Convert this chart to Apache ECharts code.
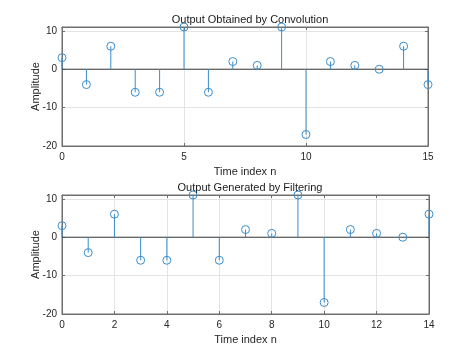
<!DOCTYPE html>
<html>
<head>
<meta charset="utf-8">
<script src="https://cdn.jsdelivr.net/npm/echarts@6/dist/echarts.min.js"></script>
<style>html,body{margin:0;padding:0;background:#fff}#c{width:474px;height:355px}</style>
</head>
<body>
<div id="c"></div>
<script>
// Data
const convIndex = [0,1,2,3,4,5,6,7,8,9,10,11,12,13,14,15];
const convValues = [3,-4,6,-6,-6,11,-6,2,1,11,-17,2,1,0,6,-4];
const filtIndex = [0,1,2,3,4,5,6,7,8,9,10,11,12,13,14];
const filtValues = [3,-4,6,-6,-6,11,-6,2,1,11,-17,2,1,0,6];
const convXTicks = [0,5,10,15];
const filtXTicks = [0,2,4,6,8,10,12,14];
const yTicks = [-20,-10,0,10];
const titles = ['Output Obtained by Convolution', 'Output Generated by Filtering'];
const xLabel = 'Time index n';
const yLabel = 'Amplitude';

const FONT = 'Liberation Sans, Arial, sans-serif';
const STEM = '#3a8dcc';
const BOX = '#6e6e6e';

const chart = echarts.init(document.getElementById('c'), null, {renderer: 'canvas'});

const grids = [
  {left: 62, right: 46, top: 27, height: 119, show: true, borderColor: BOX, borderWidth: 1, backgroundColor: '#fff'},
  {left: 62, right: 45, top: 195, height: 119, show: true, borderColor: BOX, borderWidth: 1, backgroundColor: '#fff'}
];

function xAxis(gi, max, ticks) {
  return {
    type: 'value', gridIndex: gi, min: 0, max: max,
    name: xLabel, nameLocation: 'middle', nameGap: 20,
    nameTextStyle: {fontFamily: FONT, fontSize: 11, color: '#262626'},
    axisLine: {show: true, onZero: false, lineStyle: {color: BOX}},
    axisTick: {show: true, inside: true, length: 3, lineStyle: {color: BOX}, customValues: ticks},
    axisLabel: {fontFamily: FONT, fontSize: 10, color: '#262626', margin: 6, customValues: ticks},
    splitLine: {show: true, lineStyle: {color: '#e4e4e4', width: 1}}
  };
}
function xAxisTop(gi, max, ticks) {
  return {
    type: 'value', gridIndex: gi, min: 0, max: max, position: 'top',
    axisLine: {show: true, onZero: false, lineStyle: {color: BOX}},
    axisTick: {show: true, inside: true, length: 3, lineStyle: {color: BOX}, customValues: ticks},
    axisLabel: {show: false},
    splitLine: {show: false}
  };
}
function yAxis(gi) {
  return {
    type: 'value', gridIndex: gi, min: -20, max: 11,
    name: yLabel, nameLocation: 'middle', nameGap: 21, nameMoveOverlap: false,
    nameTextStyle: {fontFamily: FONT, fontSize: 11, color: '#262626'},
    axisLine: {show: true, onZero: false, lineStyle: {color: BOX}},
    axisTick: {show: true, inside: true, length: 3, lineStyle: {color: BOX}, customValues: yTicks},
    axisLabel: {fontFamily: FONT, fontSize: 10, color: '#262626', margin: 5, customValues: yTicks},
    splitLine: {show: true, lineStyle: {color: '#e4e4e4', width: 1}}
  };
}
function yAxisRight(gi) {
  return {
    type: 'value', gridIndex: gi, min: -20, max: 11, position: 'right',
    axisLine: {show: true, onZero: false, lineStyle: {color: BOX}},
    axisTick: {show: true, inside: true, length: 3, lineStyle: {color: BOX}, customValues: yTicks},
    axisLabel: {show: false},
    splitLine: {show: false}
  };
}

function stemSeries(gi, xs, ys) {
  return {
    type: 'custom', xAxisIndex: gi * 2, yAxisIndex: gi * 2,
    clip: false,
    data: xs.map((x, i) => [x, ys[i]]),
    renderItem: function (params, api) {
      const x = api.value(0), y = api.value(1);
      const p0 = api.coord([x, 0]);
      const p1 = api.coord([x, y]);
      return {
        type: 'group',
        children: [
          {type: 'line', shape: {x1: p0[0], y1: p0[1], x2: p1[0], y2: p1[1]},
           style: {stroke: STEM, lineWidth: 1}},
          {type: 'circle', shape: {cx: p1[0], cy: p1[1], r: 4},
           style: {stroke: STEM, fill: 'rgba(0,0,0,0)', lineWidth: 1}}
        ]
      };
    },
    z: 3
  };
}

function baseline(gi, xmax) {
  return {
    type: 'line', xAxisIndex: gi * 2, yAxisIndex: gi * 2,
    data: [[0, 0], [xmax, 0]],
    symbol: 'none', silent: true,
    lineStyle: {color: '#3a3a3a', width: 1},
    z: 2
  };
}

chart.setOption({
  animation: false,
  title: [
    {text: titles[0], left: 245, top: 9, textAlign: 'center',
     textStyle: {fontFamily: FONT, fontSize: 11, fontWeight: 'normal', color: '#1a1a1a'}},
    {text: titles[1], left: 245, top: 177, textAlign: 'center',
     textStyle: {fontFamily: FONT, fontSize: 11, fontWeight: 'normal', color: '#1a1a1a'}}
  ],
  grid: grids,
  xAxis: [xAxis(0, 15, convXTicks), xAxisTop(0, 15, convXTicks), xAxis(1, 14, filtXTicks), xAxisTop(1, 14, filtXTicks)],
  yAxis: [yAxis(0), yAxisRight(0), yAxis(1), yAxisRight(1)],
  series: [
    baseline(0, 15), stemSeries(0, convIndex, convValues),
    baseline(1, 14), stemSeries(1, filtIndex, filtValues)
  ]
});
</script>
</body>
</html>
